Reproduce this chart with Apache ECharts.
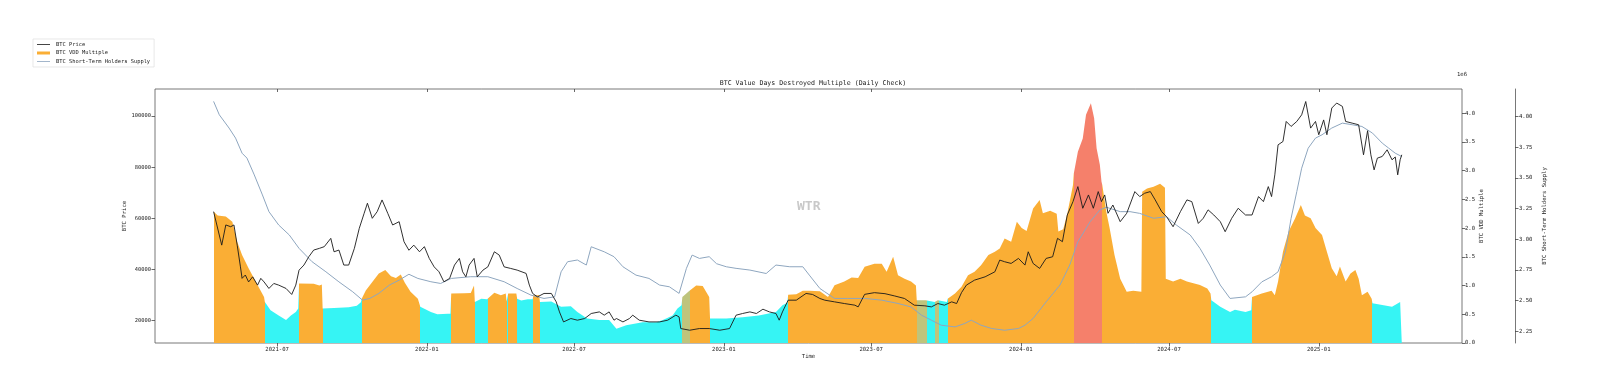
<!DOCTYPE html>
<html>
<head>
<meta charset="utf-8">
<script src="https://cdn.jsdelivr.net/npm/echarts@6.0.0/dist/echarts.min.js"></script>
<style>
html, body { margin: 0; padding: 0; background: #fff; }
#chart { width: 1606px; height: 378px; }
</style>
</head>
<body>
<div id="chart"></div>
<script>
// BTC price (USD)
var priceData = [
  ['2021-04-14',62600],['2021-04-24',49500],['2021-04-29',57400],['2021-05-05',56700],['2021-05-09',57400],['2021-05-13',49500],
  ['2021-05-17',41000],['2021-05-19',36500],['2021-05-23',37800],['2021-05-27',35100],['2021-06-01',37100],['2021-06-07',33850],
  ['2021-06-11',36500],['2021-06-15',35100],['2021-06-21',32550],['2021-06-27',34500],['2021-07-03',33850],['2021-07-12',32550],
  ['2021-07-19',30200],['2021-07-24',33850],['2021-07-28',39700],['2021-08-03',41700],['2021-08-09',44950],['2021-08-15',47570],
  ['2021-08-22',48240],['2021-08-28',48900],['2021-09-05',52160],['2021-09-09',46900],['2021-09-15',47570],['2021-09-21',41700],
  ['2021-09-27',41700],['2021-10-04',48240],['2021-10-10',56080],['2021-10-16',61960],['2021-10-20',65900],['2021-10-26',60000],
  ['2021-11-01',62600],['2021-11-07',67180],['2021-11-14',61960],['2021-11-20',57380],['2021-11-28',58670],['2021-12-04',50830],
  ['2021-12-10',47500],['2021-12-16',49500],['2021-12-23',46900],['2021-12-29',48900],['2022-01-04',44300],['2022-01-10',41000],
  ['2022-01-16',39060],['2022-01-22',35140],['2022-01-29',36470],['2022-02-04',41690],['2022-02-10',44300],['2022-02-14',39060],
  ['2022-02-18',37100],['2022-02-22',41690],['2022-02-28',44300],['2022-03-04',37100],['2022-03-11',39730],['2022-03-17',41000],
  ['2022-03-25',46900],['2022-03-31',45600],['2022-04-06',41000],['2022-04-14',40380],['2022-04-22',39730],['2022-05-03',38430],
  ['2022-05-07',33850],['2022-05-11',30590],['2022-05-17',29260],['2022-05-25',30590],['2022-06-03',30590],['2022-06-09',27300],
  ['2022-06-13',23370],['2022-06-18',19450],['2022-06-27',20780],['2022-07-05',20130],['2022-07-14',20780],['2022-07-22',22740],
  ['2022-08-01',23370],['2022-08-07',22100],['2022-08-13',23370],['2022-08-19',20130],['2022-08-22',20780],['2022-08-30',19450],
  ['2022-09-07',20780],['2022-09-11',22100],['2022-09-19',20130],['2022-10-01',19450],['2022-10-14',19450],['2022-10-24',20130],
  ['2022-11-03',22100],['2022-11-07',21400],['2022-11-09',16860],['2022-11-20',16200],['2022-12-02',16860],['2022-12-14',16860],
  ['2022-12-27',16200],['2023-01-08',16860],['2023-01-16',22080],['2023-01-24',22740],['2023-02-02',23370],['2023-02-10',22740],
  ['2023-02-18',24430],['2023-02-26',23370],['2023-03-06',22740],['2023-03-10',20130],['2023-03-14',23370],['2023-03-21',27960],
  ['2023-03-31',27960],['2023-04-12',30590],['2023-04-20',30200],['2023-04-29',28620],['2023-05-05',27960],['2023-05-17',27300],
  ['2023-05-29',26650],['2023-06-11',26000],['2023-06-15',25330],['2023-06-23',30240],['2023-07-05',30900],['2023-07-18',30500],
  ['2023-07-30',29600],['2023-08-11',28620],['2023-08-23',26000],['2023-09-05',25750],['2023-09-13',25330],['2023-09-21',26650],
  ['2023-09-29',26000],['2023-10-08',27300],['2023-10-14',26650],['2023-10-20',30900],['2023-10-26',33850],['2023-11-05',35800],
  ['2023-11-18',37100],['2023-11-30',39060],['2023-12-06',43650],['2023-12-12',43000],['2023-12-20',42340],['2023-12-29',44300],
  ['2024-01-06',41690],['2024-01-10',46900],['2024-01-16',42340],['2024-01-24',40380],['2024-02-01',44300],['2024-02-09',44950],
  ['2024-02-15',52160],['2024-02-21',50850],['2024-02-27',61300],['2024-03-05',66520],['2024-03-11',72400],['2024-03-17',63930],
  ['2024-03-24',69140],['2024-03-30',63930],['2024-04-05',70450],['2024-04-09',66520],['2024-04-13',69140],['2024-04-17',61970],
  ['2024-04-23',65200],['2024-05-02',58670],['2024-05-10',61970],['2024-05-20',70450],['2024-05-26',68500],['2024-06-01',69800],
  ['2024-06-08',70450],['2024-06-14',67200],['2024-06-22',62600],['2024-06-28',60630],['2024-07-06',56700],['2024-07-15',62600],
  ['2024-07-23',67200],['2024-07-29',66520],['2024-08-06',58000],['2024-08-12',60000],['2024-08-18',63300],['2024-08-25',61300],
  ['2024-09-02',58670],['2024-09-08',54750],['2024-09-16',60000],['2024-09-24',63930],['2024-10-03',61300],['2024-10-11',61300],
  ['2024-10-19',68500],['2024-10-25',66520],['2024-10-31',72400],['2024-11-04',68500],['2024-11-08',77000],['2024-11-12',88750],
  ['2024-11-18',90050],['2024-11-22',97900],['2024-11-28',95950],['2024-12-05',97900],['2024-12-11',100500],['2024-12-16',105700],
  ['2024-12-22',95300],['2024-12-28',97900],['2025-01-01',92700],['2025-01-07',98500],['2025-01-11',92700],['2025-01-17',103150],
  ['2025-01-23',105100],['2025-01-30',103800],['2025-02-03',97900],['2025-02-11',97250],['2025-02-19',96600],['2025-02-25',84850],
  ['2025-03-02',94270],['2025-03-06',84850],['2025-03-10',78950],['2025-03-14',83550],['2025-03-20',84200],['2025-03-26',86810],
  ['2025-04-01',82900],['2025-04-05',84000],['2025-04-08',77000],['2025-04-11',82900],['2025-04-13',84850]
];

// BTC short-term holders supply
var sthData = [
  ['2021-04-14',4.122],['2021-04-21',4.013],['2021-05-03',3.905],['2021-05-11',3.823],['2021-05-19',3.70],['2021-05-25',3.66],
  ['2021-06-03',3.523],['2021-06-13',3.36],['2021-06-21',3.224],['2021-07-03',3.115],['2021-07-16',3.034],['2021-07-28',2.925],
  ['2021-08-13',2.816],['2021-08-30',2.734],['2021-09-15',2.652],['2021-10-02',2.571],['2021-10-14',2.503],['2021-10-23',2.517],
  ['2021-11-03',2.558],['2021-11-16',2.626],['2021-11-28',2.666],['2021-12-10',2.714],['2021-12-21',2.68],['2022-01-06',2.653],
  ['2022-01-18',2.639],['2022-01-31',2.68],['2022-02-24',2.694],['2022-03-17',2.694],['2022-04-06',2.653],['2022-04-22',2.598],
  ['2022-05-09',2.544],['2022-05-25',2.517],['2022-06-07',2.53],['2022-06-15',2.734],['2022-06-23',2.816],['2022-07-05',2.83],
  ['2022-07-16',2.789],['2022-07-22',2.938],['2022-08-07',2.897],['2022-08-19',2.857],['2022-08-30',2.775],['2022-09-15',2.707],
  ['2022-10-01',2.68],['2022-10-14',2.626],['2022-10-26',2.612],['2022-11-07',2.558],['2022-11-16',2.762],['2022-11-23',2.87],
  ['2022-12-02',2.843],['2022-12-14',2.857],['2022-12-23',2.80],['2023-01-04',2.775],['2023-01-16',2.762],['2023-02-02',2.748],
  ['2023-02-22',2.72],['2023-03-06',2.789],['2023-03-23',2.775],['2023-04-08',2.775],['2023-04-16',2.707],['2023-04-29',2.598],
  ['2023-05-05',2.571],['2023-05-17',2.517],['2023-06-02',2.517],['2023-06-23',2.517],['2023-07-14',2.503],['2023-08-03',2.476],
  ['2023-08-19',2.448],['2023-09-01',2.38],['2023-09-13',2.34],['2023-09-25',2.299],['2023-10-12',2.285],['2023-10-24',2.313],
  ['2023-11-01',2.34],['2023-11-13',2.299],['2023-11-26',2.272],['2023-12-12',2.258],['2023-12-29',2.272],['2024-01-06',2.299],
  ['2024-01-16',2.354],['2024-02-01',2.489],['2024-02-18',2.626],['2024-03-01',2.789],['2024-03-11',2.979],['2024-03-26',3.142],
  ['2024-04-07',3.238],['2024-04-15',3.26],['2024-05-02',3.224],['2024-05-14',3.224],['2024-05-26',3.21],['2024-06-12',3.17],
  ['2024-06-28',3.183],['2024-07-10',3.115],['2024-07-27',3.034],['2024-08-08',2.925],['2024-08-20',2.789],['2024-09-02',2.626],
  ['2024-09-14',2.517],['2024-10-03',2.53],['2024-10-11',2.571],['2024-10-23',2.652],['2024-11-04',2.694],['2024-11-12',2.734],
  ['2024-11-21',2.897],['2024-11-28',3.17],['2024-12-05',3.387],['2024-12-11',3.578],['2024-12-19',3.741],['2024-12-28',3.823],
  ['2025-01-05',3.85],['2025-01-17',3.905],['2025-01-30',3.945],['2025-02-11',3.932],['2025-02-23',3.918],['2025-03-08',3.864],
  ['2025-03-20',3.782],['2025-03-28',3.741],['2025-04-05',3.70],['2025-04-13',3.673]
];

// BTC VDD multiple (x 1e6)
var vddData = [
  ['2021-04-14',2.29],['2021-04-19',2.22],['2021-04-29',2.20],['2021-05-07',2.11],['2021-05-13',1.76],['2021-05-19',1.53],
  ['2021-05-27',1.30],['2021-06-07',1.01],['2021-06-15',0.80],
  ['2021-06-16',0.715],['2021-06-23',0.57],['2021-07-03',0.48],['2021-07-12',0.40],['2021-07-18',0.48],['2021-07-24',0.54],['2021-07-27',0.60],
  ['2021-07-28',1.036],['2021-08-15',1.03],['2021-08-22',1.00],['2021-08-25',1.02],
  ['2021-08-26',0.60],['2021-09-09',0.61],['2021-09-27',0.62],['2021-10-07',0.65],['2021-10-12',0.71],
  ['2021-10-13',0.77],['2021-10-18',0.915],['2021-10-26',1.06],['2021-11-03',1.21],['2021-11-11',1.27],['2021-11-18',1.16],
  ['2021-11-24',1.13],['2021-11-30',1.19],['2021-12-05',1.05],['2021-12-12',0.89],['2021-12-21',0.77],['2021-12-23',0.75],
  ['2021-12-24',0.63],['2022-01-06',0.54],['2022-01-14',0.50],['2022-01-27',0.51],['2022-01-30',0.51],
  ['2022-01-31',0.86],['2022-02-16',0.865],['2022-02-24',0.87],['2022-02-28',1.00],
  ['2022-03-01',0.715],['2022-03-09',0.77],['2022-03-16',0.76],
  ['2022-03-17',0.77],['2022-03-25',0.875],['2022-04-02',0.83],['2022-04-08',0.86],
  ['2022-04-09',0.72],['2022-04-10',0.72],
  ['2022-04-11',0.86],['2022-04-21',0.86],
  ['2022-04-22',0.77],['2022-04-27',0.74],['2022-05-05',0.76],['2022-05-11',0.76],
  ['2022-05-12',0.83],['2022-05-19',0.83],
  ['2022-05-20',0.715],['2022-06-03',0.72],['2022-06-15',0.63],['2022-06-27',0.64],['2022-07-05',0.54],['2022-07-17',0.425],
  ['2022-08-01',0.40],['2022-08-13',0.40],['2022-08-22',0.25],['2022-09-03',0.31],['2022-09-23',0.36],['2022-10-10',0.36],
  ['2022-10-18',0.40],['2022-10-30',0.48],['2022-11-05',0.60],['2022-11-10',0.655],
  ['2022-11-11',0.80],['2022-11-19',0.90],
  ['2022-11-20',0.93],['2022-11-28',1.00],['2022-12-06',0.99],['2022-12-14',0.80],
  ['2022-12-15',0.425],['2023-01-04',0.425],['2023-01-24',0.45],['2023-02-13',0.48],['2023-03-06',0.54],['2023-03-14',0.655],['2023-03-20',0.70],
  ['2023-03-21',0.84],['2023-03-31',0.85],['2023-04-08',0.91],['2023-04-16',0.91],['2023-04-29',0.90],['2023-05-09',0.80],
  ['2023-05-17',1.006],['2023-05-29',1.07],['2023-06-07',1.14],['2023-06-15',1.13],['2023-06-23',1.325],['2023-07-05',1.38],
  ['2023-07-14',1.38],['2023-07-20',1.24],['2023-07-28',1.50],['2023-08-03',1.18],['2023-08-11',1.12],['2023-08-19',1.07],['2023-08-25',1.00],
  ['2023-08-26',0.745],['2023-09-06',0.745],
  ['2023-09-07',0.715],['2023-09-17',0.715],
  ['2023-09-18',0.745],['2023-09-21',0.745],
  ['2023-09-22',0.715],['2023-10-02',0.715],
  ['2023-10-03',0.77],['2023-10-12',0.86],['2023-10-20',0.977],['2023-10-28',1.18],['2023-11-05',1.24],['2023-11-13',1.355],
  ['2023-11-22',1.53],['2023-11-30',1.59],['2023-12-06',1.645],['2023-12-12',1.82],['2023-12-20',1.76],['2023-12-27',2.11],
  ['2024-01-02',2.00],['2024-01-08',1.95],['2024-01-16',2.34],['2024-01-24',2.49],['2024-01-28',2.26],['2024-02-06',2.30],
  ['2024-02-14',2.25],['2024-02-16',1.94],['2024-02-22',1.98],['2024-02-27',2.25],['2024-03-05',2.75],
  ['2024-03-06',2.95],['2024-03-11',3.33],['2024-03-17',3.56],['2024-03-21',3.97],['2024-03-27',4.17],['2024-03-31',3.91],
  ['2024-04-03',3.39],['2024-04-07',3.10],['2024-04-09',2.81],
  ['2024-04-10',2.75],['2024-04-15',2.28],['2024-04-19',2.00],['2024-04-25',1.53],['2024-05-02',1.12],['2024-05-10',0.89],
  ['2024-05-18',0.91],['2024-05-28',0.89],['2024-05-29',2.63],['2024-06-04',2.69],['2024-06-12',2.72],['2024-06-20',2.77],
  ['2024-06-26',2.70],['2024-06-27',1.12],['2024-07-06',1.07],['2024-07-15',1.12],['2024-07-23',1.07],['2024-07-31',1.04],
  ['2024-08-08',1.01],['2024-08-17',0.95],['2024-08-21',0.86],
  ['2024-08-22',0.745],['2024-09-02',0.63],['2024-09-14',0.54],['2024-09-20',0.58],['2024-10-03',0.54],['2024-10-10',0.57],
  ['2024-10-11',0.80],['2024-10-23',0.86],['2024-11-04',0.91],['2024-11-08',0.83],['2024-11-12',1.07],['2024-11-18',1.59],
  ['2024-11-25',1.94],['2024-12-03',2.17],['2024-12-10',2.40],['2024-12-15',2.22],['2024-12-22',2.17],['2024-12-28',2.00],
  ['2025-01-05',1.88],['2025-01-11',1.59],['2025-01-17',1.30],['2025-01-23',1.16],['2025-01-27',1.33],['2025-02-03',1.07],
  ['2025-02-09',1.21],['2025-02-15',1.27],['2025-02-19',1.12],['2025-02-23',0.83],['2025-03-02',0.89],['2025-03-07',0.77],
  ['2025-03-08',0.69],['2025-03-20',0.66],['2025-04-01',0.63],['2025-04-11',0.715],['2025-04-13',0.715]
];

// signal state of the VDD fill: start date of each run
var vddRegimes = [
  ['2021-04-14','orange'],['2021-06-16','cyan'],['2021-07-28','orange'],['2021-08-26','cyan'],['2021-10-13','orange'],
  ['2021-12-24','cyan'],['2022-01-31','orange'],['2022-03-01','cyan'],['2022-03-17','orange'],['2022-04-09','cyan'],
  ['2022-04-11','orange'],['2022-04-22','cyan'],['2022-05-12','orange'],['2022-05-20','cyan'],['2022-11-11','olive'],
  ['2022-11-20','orange'],['2022-12-15','cyan'],['2023-03-21','orange'],['2023-08-26','olive'],['2023-09-07','cyan'],
  ['2023-09-18','olive'],['2023-09-22','cyan'],['2023-10-03','orange'],['2024-03-06','red'],['2024-04-10','orange'],
  ['2024-08-22','cyan'],['2024-10-11','orange'],['2025-03-08','cyan']
];
var vddEnd = '2025-04-15';

var xRange = ['2021-02-01', '2025-06-26'];
var xTicks = ['2021-07-01','2022-01-01','2022-07-01','2023-01-01','2023-07-01','2024-01-01','2024-07-01','2025-01-01'];
var priceTicks = [20000, 40000, 60000, 80000, 100000];
var vddTicks = [0, 0.5, 1.0, 1.5, 2.0, 2.5, 3.0, 3.5, 4.0];
var sthTicks = [2.25, 2.50, 2.75, 3.00, 3.25, 3.50, 3.75, 4.00];

var regimeColors = { orange: '#FAAE35', cyan: '#36F4F4', red: '#F5806B', olive: '#BFC47C' };
var FONT = 'DejaVu Sans Mono';
var LINE_ICON = 'path://M0,0H16V1H0Z';

function ts(s) { return echarts.time.parse(s).getTime(); }
function toXY(rows) { return rows.map(function (r) { return [ts(r[0]), r[1]]; }); }

var pieces = vddRegimes.map(function (r, i) {
    var end = i + 1 < vddRegimes.length ? vddRegimes[i + 1][0] : vddEnd;
    return { gte: ts(r[0]), lt: ts(end), color: regimeColors[r[1]] };
});
var xTickVals = xTicks.map(ts);

var chart = echarts.init(document.getElementById('chart'));

var labelStyle = { fontSize: 5.6, color: '#222', fontFamily: FONT };
var tickStyle = { color: '#444', width: 0.8 };

chart.setOption({
    animation: false,
    title: {
        text: 'BTC Value Days Destroyed Multiple (Daily Check)',
        left: 808,
        textAlign: 'center',
        top: 75,
        textStyle: { fontSize: 6.6, fontWeight: 'normal', color: '#222', fontFamily: FONT }
    },
    legend: {
        orient: 'vertical',
        left: 33,
        top: 39,
        padding: [3, 4, 3, 4],
        itemGap: 3.5,
        itemWidth: 13,
        itemHeight: 3,
        symbolKeepAspect: true,
        borderColor: '#d8d8d8',
        borderWidth: 0.6,
        textStyle: { fontSize: 5.4, color: '#222', fontFamily: FONT, padding: [0, 0, 0, 1] },
        data: [
            { name: 'BTC Price', icon: LINE_ICON },
            { name: 'BTC VDD Multiple', icon: 'rect' },
            { name: 'BTC Short-Term Holders Supply', icon: LINE_ICON }
        ]
    },
    grid: {
        left: 155, right: 144, top: 89, bottom: 35,
        show: true, borderColor: '#555', borderWidth: 0.8, backgroundColor: 'transparent'
    },
    visualMap: {
        type: 'piecewise',
        show: false,
        dimension: 0,
        seriesIndex: 0,
        pieces: pieces
    },
    xAxis: [
        {
            type: 'value',
            min: ts(xRange[0]),
            max: ts(xRange[1]),
            axisLine: { show: false },
            splitLine: { show: false },
            axisTick: { show: true, length: 3.5, lineStyle: tickStyle, customValues: xTickVals },
            axisLabel: {
                customValues: xTickVals,
                margin: 4,
                fontSize: 5.6, color: '#222', fontFamily: FONT,
                formatter: function (v) { return echarts.time.format(v, '{yyyy}-{MM}', false); }
            },
            name: 'Time',
            nameLocation: 'middle',
            nameGap: 11,
            nameMoveOverlap: false,
            nameTextStyle: labelStyle
        },
        {
            type: 'value',
            position: 'top',
            min: ts(xRange[0]),
            max: ts(xRange[1]),
            axisLine: { show: false },
            splitLine: { show: false },
            axisTick: { show: true, inside: true, length: 3, lineStyle: tickStyle, customValues: xTickVals },
            axisLabel: { show: false }
        }
    ],
    yAxis: [
        {
            type: 'value',
            position: 'left',
            min: 11200,
            max: 110600,
            axisLine: { show: false },
            splitLine: { show: false },
            axisTick: { show: true, length: 3.5, lineStyle: tickStyle, customValues: priceTicks },
            axisLabel: {
                customValues: priceTicks, margin: 4, fontSize: 5.4, color: '#222', fontFamily: FONT,
                formatter: function (v) { return String(v); }
            },
            name: 'BTC Price',
            nameLocation: 'middle',
            nameGap: 27,
            nameMoveOverlap: false,
            nameTextStyle: labelStyle
        },
        {
            type: 'value',
            position: 'right',
            min: 0,
            max: 4.42,
            axisLine: { show: false },
            splitLine: { show: false },
            axisTick: { show: true, length: 3.5, lineStyle: tickStyle, customValues: vddTicks },
            axisLabel: {
                customValues: vddTicks, margin: 3, fontSize: 5.6, color: '#222', fontFamily: FONT,
                formatter: function (v) { return v.toFixed(1); }
            },
            name: 'BTC VDD Multiple',
            nameLocation: 'middle',
            nameGap: 17,
            nameMoveOverlap: false,
            nameTextStyle: labelStyle
        },
        {
            type: 'value',
            position: 'right',
            offset: 53,
            min: 2.154,
            max: 4.223,
            axisLine: { show: true, lineStyle: { color: '#555', width: 0.8 } },
            splitLine: { show: false },
            axisTick: { show: true, length: 3.5, lineStyle: tickStyle, customValues: sthTicks },
            axisLabel: {
                customValues: sthTicks, margin: 4, fontSize: 5.6, color: '#222', fontFamily: FONT,
                formatter: function (v) { return v.toFixed(2); }
            },
            name: 'BTC Short-Term Holders Supply',
            nameLocation: 'middle',
            nameGap: 27,
            nameMoveOverlap: false,
            nameTextStyle: labelStyle
        }
    ],
    graphic: [
        {
            type: 'text', left: 797, top: 200, z: 1,
            style: { text: 'WTR', fill: '#c9c9c9', fontSize: 13, fontWeight: 'bold', fontFamily: FONT }
        },
        {
            type: 'text', left: 1457, top: 72,
            style: { text: '1e6', fill: '#222', fontSize: 5.6, fontFamily: FONT }
        }
    ],
    series: [
        {
            name: 'BTC VDD Multiple',
            type: 'line',
            xAxisIndex: 0,
            yAxisIndex: 1,
            data: toXY(vddData),
            symbol: 'none',
            itemStyle: { color: '#FAAE35' },
            lineStyle: { width: 0 },
            areaStyle: { opacity: 1 },
            z: 1
        },
        {
            name: 'BTC Short-Term Holders Supply',
            type: 'line',
            xAxisIndex: 0,
            yAxisIndex: 2,
            data: toXY(sthData),
            symbol: 'none',
            itemStyle: { color: '#8ea6bf' },
            lineStyle: { width: 1, color: '#8ea6bf' },
            z: 3
        },
        {
            name: 'BTC Price',
            type: 'line',
            xAxisIndex: 0,
            yAxisIndex: 0,
            data: toXY(priceData),
            symbol: 'none',
            itemStyle: { color: '#1a1a1a' },
            lineStyle: { width: 0.9, color: '#1a1a1a' },
            z: 4
        }
    ]
});
</script>
</body>
</html>
